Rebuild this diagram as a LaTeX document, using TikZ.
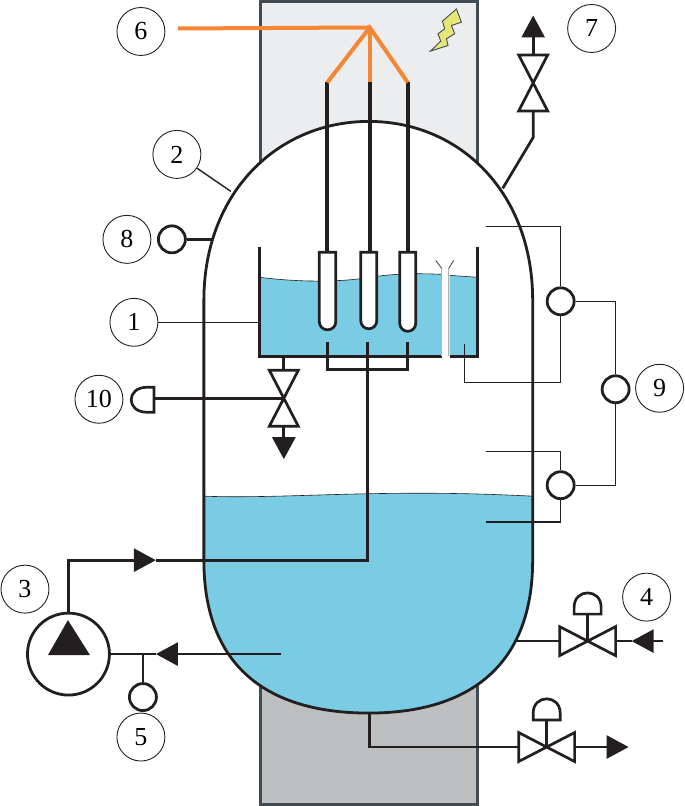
\documentclass[tikz,border=0pt]{standalone}
\usepackage{fontspec}
\setmainfont{Liberation Serif}
\usepackage{xcolor}
\usetikzlibrary{arrows.meta}

\definecolor{waterblue}{HTML}{79CCE3}
\definecolor{wallgrey}{HTML}{414B54}
\definecolor{upperzone}{HTML}{EBEDEF}
\definecolor{lowerzone}{HTML}{BEBFC1}
\definecolor{wireorange}{HTML}{F58634}
\definecolor{boltyellow}{HTML}{E6E677}
\definecolor{linedark}{HTML}{231F20}

\newcommand{\vesselpath}{(204,300) .. controls (204,192) and (278,121) .. (369,121)
  .. controls (460,121) and (533,192) .. (533,300) -- (533,560)
  .. controls (533,665) and (470,713) .. (369,713)
  .. controls (266,713) and (204,665) .. (204,560) -- cycle}

\begin{document}
\begin{tikzpicture}[
  % --- global style ---
  x=1pt, y=-1pt,
  line join=miter,
  pipe/.style={draw=linedark, line width=2.7pt},
  signal/.style={draw=linedark, line width=1.4pt},
  stem/.style={draw=linedark, line width=4pt},
  wire/.style={draw=wireorange, line width=4pt},
  tiparr/.style={pipe, -{Triangle[length=22pt,width=23pt]}},
  tag/.style={circle, draw=linedark, line width=0.9pt, minimum size=48pt,
    inner sep=0pt, font=\fontsize{26}{26}\selectfont},
  instr/.style={circle, draw=linedark, line width=2.8pt, minimum size=27pt,
    inner sep=0pt, fill=white},
  electrode/.style={draw=linedark, line width=2.7pt, fill=white},
  vvalve/.pic={
    \draw[pipe, fill=white] (-14.5,-28) -- (14.5,-28) -- (-14.5,28) -- (14.5,28) -- cycle;
    \coordinate (-top) at (0,-28);
    \coordinate (-bot) at (0,28);
    \coordinate (-mid) at (0,0);
  },
  hvalve/.pic={
    \draw[pipe, fill=white] (-28,-14.5) -- (-28,14.5) -- (28,-14.5) -- (28,14.5) -- cycle;
    \coordinate (-left) at (-28,0);
    \coordinate (-right) at (28,0);
    \coordinate (-mid) at (0,0);
    \draw[pipe] (0,0) -- (0,-27);
    \draw[pipe, fill=white] (-13.5,-27) -- (13.5,-27) -- (13.5,-34)
      .. controls (13.5,-53) and (-13.5,-53) .. (-13.5,-34) -- cycle;
  },
]

% ====== Support column and vessel ======
\draw[draw=wallgrey, line width=3pt, fill=upperzone] (261,1) rectangle (478,200);
\draw[draw=wallgrey, line width=3pt, fill=lowerzone] (261,660) rectangle (478,804);

\fill[white] \vesselpath;
\begin{scope}
  \clip \vesselpath;
  \fill[waterblue] (204,496) .. controls (290,499) and (380,488) .. (533,496)
    -- (533,720) -- (204,720) -- cycle;
  \draw[linedark, line width=0.6pt] (204,496) .. controls (290,499) and (380,488) .. (533,496);
\end{scope}
\draw[draw=linedark, line width=2.8pt] \vesselpath;

% ====== Inner tank ======
\fill[waterblue] (260,277) .. controls (300,282) and (340,282) .. (370,277)
  .. controls (395,273) and (420,273) .. (442,274) -- (442,356) -- (260,356) -- cycle;
\fill[waterblue] (450,275) -- (478,277) -- (478,356) -- (450,356) -- cycle;
\draw[linedark, line width=0.6pt] (260,277) .. controls (300,282) and (340,282) .. (370,277)
  .. controls (395,273) and (420,273) .. (442,274);
\draw[linedark, line width=0.6pt] (450,275) -- (478,277);

\coordinate (tankleft) at (260,322);
\coordinate (tankdrain) at (284,356);
\draw[pipe] (260,247) -- (260,356) -- (442,356);
\draw[pipe] (450,356) -- (478,356) -- (478,247);

% --- overflow gap ---
\draw[linedark!35, line width=0.8pt] (442,268) -- (442,356);
\draw[linedark!35, line width=0.8pt] (449,268) -- (449,356);
\draw[linedark!80, line width=0.9pt] (436,260) -- (442,268);
\draw[linedark!80, line width=0.9pt] (454,260) -- (449,268);

% --- electrodes ---
\draw[electrode] (319.5,252) [rounded corners=8pt] -- (319.5,329.5) -- (336,329.5) [sharp corners] -- (336,252) -- cycle;
\draw[electrode] (361,252) [rounded corners=8pt] -- (361,328.5) -- (377,328.5) [sharp corners] -- (377,252) -- cycle;
\draw[electrode] (400,252) [rounded corners=8pt] -- (400,331) -- (416,331) [sharp corners] -- (416,252) -- cycle;

\coordinate (wirehub) at (370,27);
\coordinate (leftend) at (327.5,82);
\coordinate (midend) at (370,82);
\coordinate (rightend) at (408,82);

\draw[stem] (leftend) -- (327.5,252);
\draw[stem] (midend) -- (370,252);
\draw[stem] (rightend) -- (408,252);
\draw[wire] (178,28) -- (wirehub);
\draw[wire] (leftend) -- (wirehub) -- (rightend);
\draw[wire] (wirehub) -- (midend);

% --- bolt ---
\draw[draw=wallgrey, line width=0.9pt, fill=boltyellow]
  (456.7,8.5) -- (442.7,20.7) -- (445,28.3) -- (438.3,33.3) -- (441,40.7) -- (430.7,50.7)
  -- (448.3,45) -- (446.7,38.3) -- (455,33.3) -- (451.7,25) -- (461.7,21.7) -- cycle;

% ====== Feed line ======
\draw[pipe] (327.5,342) -- (327.5,369) -- (408,369) -- (408,342);
\draw[pipe] (368,342) -- (368,560) -- (156,560);

% ====== Pump ======
\node[circle, draw=linedark, line width=2.8pt, minimum size=82pt, inner sep=0pt] (pump) at (68.5,654) {};
\fill[linedark] (68,620) -- (90,655) -- (48,655) -- cycle;
\coordinate (feedtip) at (156,560);
\coordinate (suctip) at (156,654);
\coordinate (sucend) at (281,654);
\draw[tiparr] (pump.north) |- (feedtip);
\draw[pipe] (sucend) -- (170,654);
\draw[tiparr] (178,654) -- (suctip);
\draw[pipe] (suctip) -- (pump.east);

\node[instr] (suction) at (143,697) {};
\draw[pipe] (143,654) -- (suction.north);

% ====== Drain valve ======
\pic (drain) at (284,398) {vvalve};
\coordinate (drainhead) at (284,459);
\draw[pipe] (tankdrain) -- (drain-top);
\draw[tiparr] (drain-bot) -- (drainhead);

\draw[pipe, fill=white] (154,387) -- (154,412) -- (147,412)
  .. controls (126,412) and (126,387) .. (147,387) -- cycle;
\coordinate (driver) at (154,398);
\draw[pipe] (driver) -- (drain-mid);

% ====== Vent ======
\pic (vent) at (533.5,82.5) {vvalve};
\coordinate (ventwall) at (503,188);
\coordinate (ventbend) at (533.5,137);
\coordinate (venthead) at (533.5,15);
\draw[pipe] (ventwall) -- (ventbend) -- (vent-bot);
\draw[tiparr] (vent-top) -- (venthead);

% ====== Inlet and outlet valves ======
\pic (inlet) at (588,641) {hvalve};
\coordinate (inletwall) at (515,641);
\coordinate (inletend) at (663,641);
\coordinate (inlethead) at (632,641);
\draw[pipe] (inletwall) -- (inlet-left);
\draw[pipe] (inletend) -- (653,641);
\draw[tiparr] (654,641) -- (inlethead);
\draw[pipe] (inlethead) -- (inlet-right);

\pic (outlet) at (547,747) {hvalve};
\coordinate (outletwall) at (370,713);
\coordinate (outlethead) at (629,747);
\draw[pipe] (outletwall) |- (outlet-left);
\draw[tiparr] (outlet-right) -- (outlethead);

% ====== Level instruments ======
\node[instr] (tanklevel) at (561,301) {};
\node[instr] (vessellevel) at (561,485) {};
\node[instr] (levelsum) at (616,389) {};
\node[instr] (pressure) at (172,239) {};

\draw[signal] (486,226) -| (tanklevel.north);
\draw[signal] (tanklevel.south) |- (465,382) -- (465,344);
\draw[signal] (486,451) -| (vessellevel.north);
\draw[signal] (486,522) -| (vessellevel.south);
\draw[signal] (tanklevel.east) -| (levelsum.north);
\draw[signal] (vessellevel.east) -| (levelsum.south);
\draw[pipe] (pressure.east) -- (212.5,239);

% ====== Numbered tags ======
\node[tag] (n1) at (134,322) {1};
\node[tag] (n2) at (177,154) {2};
\node[tag] (n3) at (25,589) {3};
\node[tag] (n4) at (647,597) {4};
\node[tag] (n5) at (141,737) {5};
\node[tag] (n6) at (141,31) {6};
\node[tag] (n7) at (592,28) {7};
\node[tag] (n8) at (127,239) {8};
\node[tag] (n9) at (660,388) {9};
\node[tag] (n10) at (99,399) {10};

\draw[signal] (n1) -- (tankleft);
\draw[signal] (n2) -- (231,191);

\useasboundingbox (0,0) rectangle (685,806);
\end{tikzpicture}
\end{document}
